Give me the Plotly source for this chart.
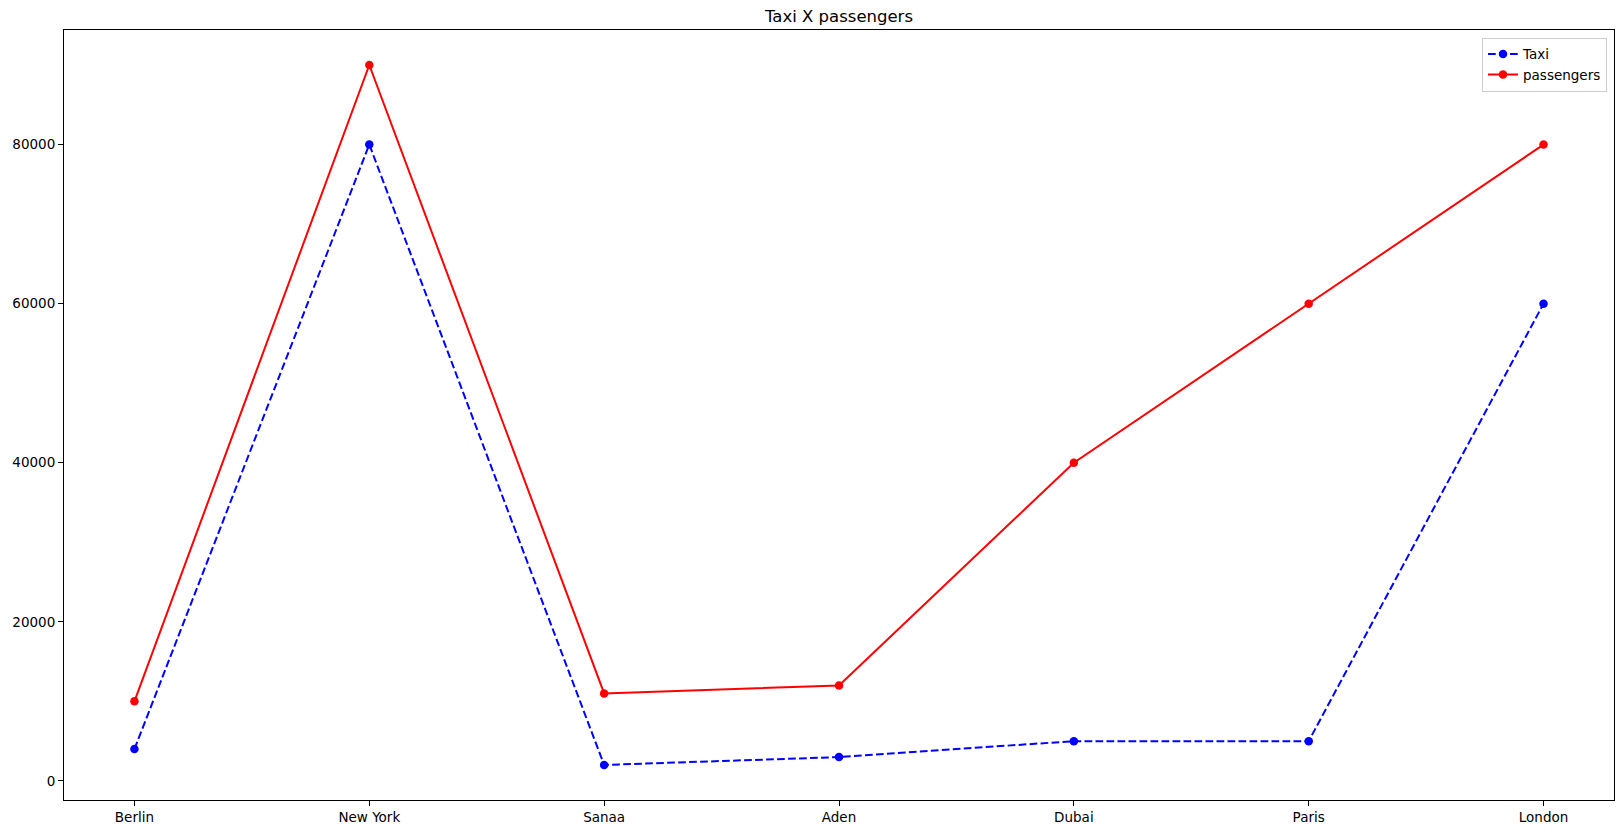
import plotly.graph_objects as go

cities = ['Berlin', 'New York', 'Sanaa', 'Aden', 'Dubai', 'Paris', 'London']
taxi = [4000, 80000, 2000, 3000, 5000, 5000, 60000]
passengers = [10000, 90000, 11000, 12000, 40000, 60000, 80000]
y_ticks = [0, 20000, 40000, 60000, 80000]

fig = go.Figure()
fig.add_trace(go.Scatter(
    x=cities, y=taxi, mode='lines+markers', name='Taxi',
    line=dict(color='#0000ff', width=2, dash='7.7px,3.3px'),
    marker=dict(color='#0000ff', size=8.5)
))
fig.add_trace(go.Scatter(
    x=cities, y=passengers, mode='lines+markers', name='passengers',
    line=dict(color='#ff0000', width=2),
    marker=dict(color='#ff0000', size=8.5)
))

axis_common = dict(
    showline=True, linecolor='black', linewidth=1.1, mirror=True,
    ticks='outside', ticklen=5, tickwidth=1.1, tickcolor='black',
    showgrid=False, zeroline=False,
    tickfont=dict(family='DejaVu Sans', size=13.5, color='black'),
)

# the page body has an 8px margin, so the figure is a bit smaller than the window
fig.update_layout(
    width=1608, height=818,
    paper_bgcolor='white', plot_bgcolor='white',
    font=dict(family='DejaVu Sans', color='black'),
    title=dict(text='Taxi X passengers', x=0.5, xref='paper', xanchor='center',
               y=1 - 8.5 / 818, yref='container', yanchor='middle',
               font=dict(size=16.5, color='black')),
    xaxis=dict(range=[-0.3, 6.3], **axis_common),
    yaxis=dict(range=[-2400, 94400], tickvals=y_ticks, tickformat='d', **axis_common),
    legend=dict(x=0.9955, y=0.990, xanchor='right', yanchor='top',
                bordercolor='#cccccc', borderwidth=1, bgcolor='rgba(255,255,255,0.8)',
                font=dict(size=13.5, color='black'), tracegroupgap=2),
    margin=dict(l=56, r=2, t=22, b=26),
    showlegend=True,
)

fig.write_html("out.html")
